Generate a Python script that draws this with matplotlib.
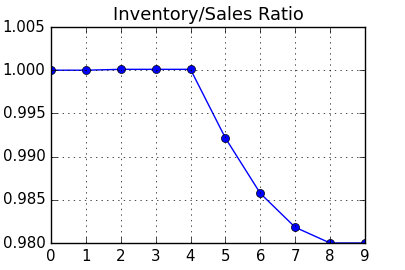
import matplotlib
matplotlib.use("Agg")
import matplotlib.pyplot as plt

plt.style.use("classic")

x = [0, 1, 2, 3, 4, 5, 6, 7, 8, 9]
ratio = [1.0000, 1.0000, 1.0001, 1.0001, 1.0001, 0.99215, 0.98575, 0.98182, 0.98000, 0.98000]
title = "Inventory/Sales Ratio"

fig = plt.figure(figsize=(4.05, 2.7), dpi=100)
ax = fig.add_axes([0.126, 0.1, 0.775, 0.8])
ax.plot(x, ratio, "bo-", markersize=5.8)
ax.set_xlim(0, 9)
ax.set_ylim(0.980, 1.005)
ax.set_xticks(range(0, 10))
ax.set_yticks([0.980, 0.985, 0.990, 0.995, 1.000, 1.005])
ax.set_yticklabels(["0.980", "0.985", "0.990", "0.995", "1.000", "1.005"])
ax.tick_params(labelsize=10.8)
ax.grid(True)
ax.set_title(title, fontsize=12.9)
fig.savefig("out.png", dpi=100)
